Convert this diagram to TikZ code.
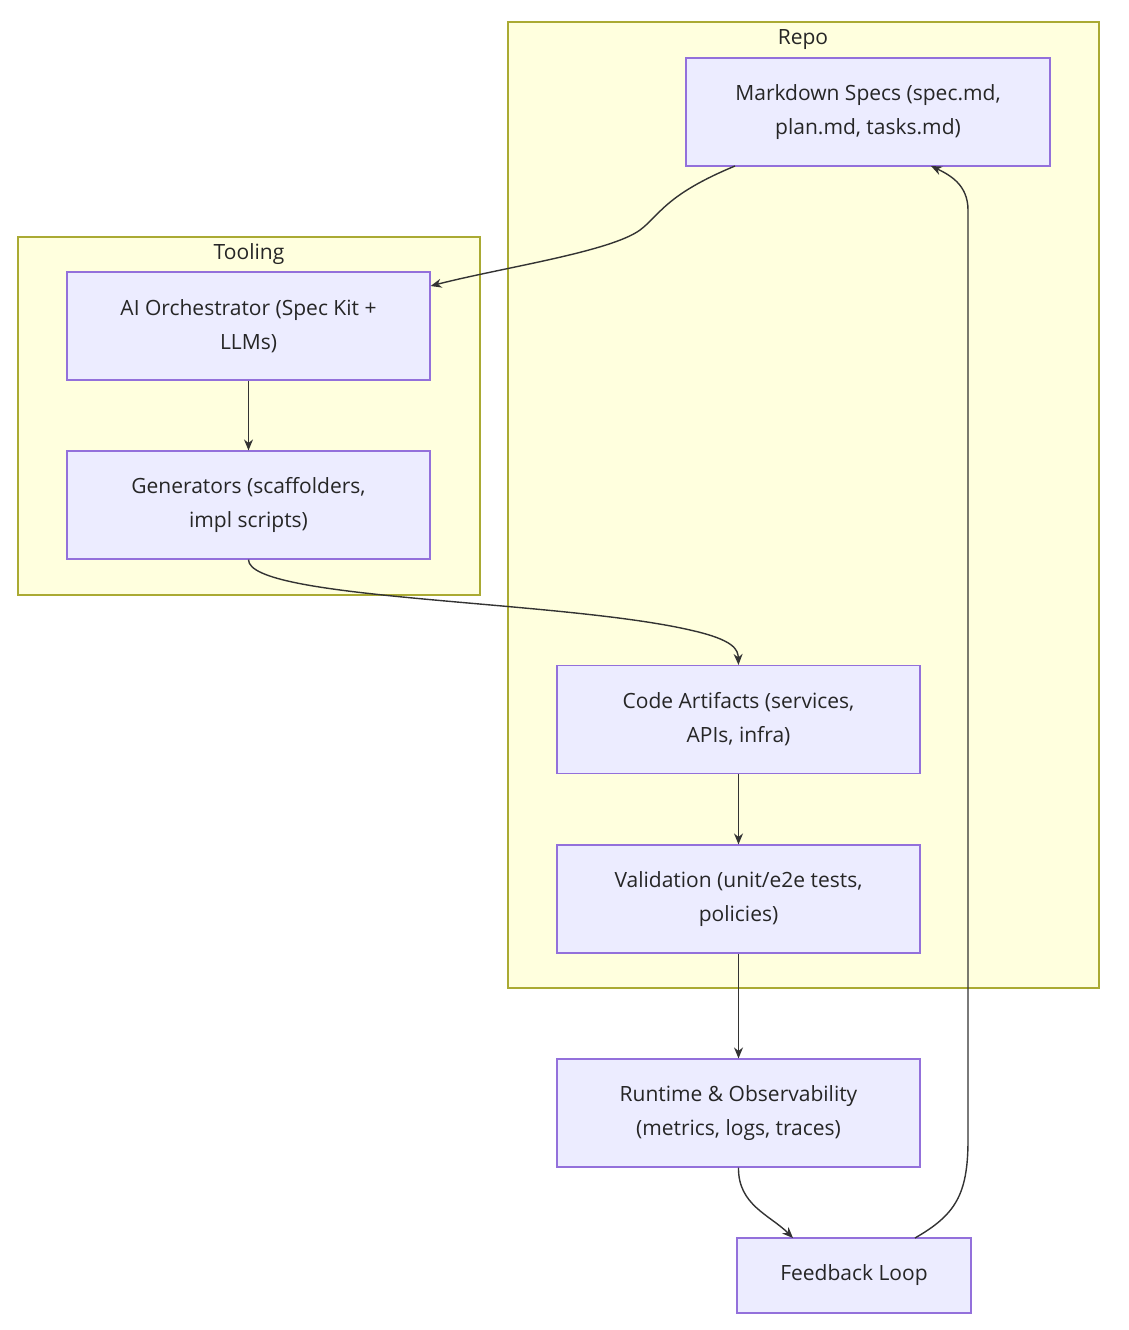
\documentclass[tikz,border=0pt]{standalone}
\usepackage{fontspec}
\setmainfont{Open Sans}
\usetikzlibrary{arrows.meta}
\definecolor{nf}{HTML}{ECECFF}\definecolor{ns}{HTML}{9370DB}
\definecolor{cf}{HTML}{FFFFDE}\definecolor{cs}{HTML}{AAAA33}
\definecolor{ln}{HTML}{333333}
\begin{document}
\begin{tikzpicture}[x=1pt,y=-1pt,
 box/.style={draw=ns,fill=nf,line width=1.2pt,align=center,font=\fontsize{21}{34}\selectfont,text=black!85},
 clus/.style={draw=cs,fill=cf,line width=1.2pt},
 ttl/.style={font=\fontsize{21}{24}\selectfont,text=black!85},
 e/.style={draw=ln,line width=1.4pt,-{Stealth[length=11pt,width=9pt]}}]
\useasboundingbox (0,0) rectangle (1128,1330);
\draw[clus] (508,22) rectangle (1099,988);
\node[ttl] (repo) at (803,40) {Repo};
\draw[clus] (18,237) rectangle (480,595);
\node[ttl] (tool) at (249,254) {Tooling};
\node[box,minimum width=364pt,minimum height=108pt] (md) at (868,112) {Markdown Specs (spec.md,\\plan.md, tasks.md)};
\node[box,minimum width=363pt,minimum height=108pt] (ai) at (248.5,326) {AI Orchestrator (Spec Kit +\\LLMs)};
\node[box,minimum width=363pt,minimum height=108pt] (gen) at (248.5,505) {Generators (scaffolders,\\impl scripts)};
\node[box,minimum width=363pt,minimum height=108pt] (code) at (738.5,719.5) {Code Artifacts (services,\\APIs, infra)};
\node[box,minimum width=363pt,minimum height=108pt] (val) at (738.5,899) {Validation (unit/e2e tests,\\policies)};
\node[box,minimum width=363pt,minimum height=108pt] (rt) at (738.5,1113) {Runtime \& Observability\\(metrics, logs, traces)};
\node[box,minimum width=234pt,minimum height=75pt] (fb) at (854,1275.5) {Feedback Loop};
\draw[e] (735,166) .. controls (665,195) and (660,215) .. (640,230) .. controls (610,252) and (500,268) .. (ai.east |- 0,286);
\draw[e] (ai) -- (gen);
\draw[e] (gen.south) .. controls (248,600) and (560,600) .. (690,630) .. controls (735,640) and (738,650) .. (code.north);
\draw[e] (code) -- (val);
\draw[e] (val) -- (rt);
\draw[e] (rt.south) .. controls (738,1205) and (770,1215) .. (793,1238);
\draw[e] (915,1238) .. controls (955,1215) and (968,1195) .. (968,1140) -- (968,210) .. controls (968,185) and (950,175) .. (931,166);
\end{tikzpicture}
\end{document}
